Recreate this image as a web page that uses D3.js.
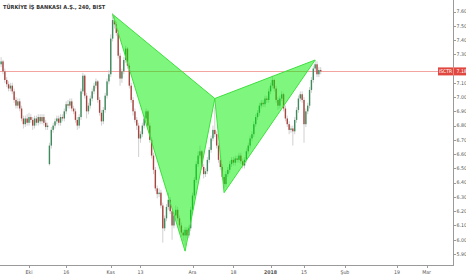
<!DOCTYPE html>
<html>
<head>
<meta charset="utf-8">
<script src="https://cdn.jsdelivr.net/npm/d3@7"></script>
<style>
  html, body { margin: 0; padding: 0; background: #fff; }
  svg text { font-family: "DejaVu Sans Condensed", "DejaVu Sans", sans-serif; }
</style>
</head>
<body>
<div id="chart"></div>
<script>
// ISCTR 240 min candles, bar index 0..173
const open = [7.20,7.23,7.25,7.18,7.12,7.09,7.06,7.08,7.04,6.98,
  6.94,6.97,6.92,6.85,6.81,6.85,6.82,6.86,6.84,6.80,
  6.85,6.82,6.86,6.83,6.86,6.82,6.79,6.53,6.66,6.77,
  6.80,6.83,6.85,6.82,6.86,6.85,6.90,6.95,6.94,6.97,
  6.92,6.90,6.84,6.80,6.86,7.04,7.15,7.01,6.90,6.94,
  6.99,7.04,7.08,7.11,6.98,6.89,6.83,6.91,7.01,7.11,
  7.16,7.41,7.54,7.51,7.45,7.29,7.13,7.18,7.26,7.34,
  7.22,7.08,6.98,6.90,6.84,6.80,6.71,6.74,6.80,6.85,
  6.90,6.80,6.70,6.59,6.49,6.36,6.32,6.33,6.24,6.08,
  6.15,6.23,6.28,6.20,6.10,6.17,6.21,6.15,6.10,6.05,
  6.03,6.07,6.03,6.08,6.21,6.31,6.42,6.53,6.59,6.62,
  6.51,6.46,6.48,6.56,6.63,6.71,6.77,6.74,6.66,6.56,
  6.51,6.44,6.39,6.46,6.49,6.53,6.56,6.54,6.57,6.56,
  6.59,6.55,6.52,6.56,6.62,6.66,6.71,6.74,6.81,6.86,
  6.89,6.94,6.96,6.95,6.99,6.98,7.04,7.08,7.12,7.06,
  6.98,6.94,6.99,7.02,6.92,6.85,6.81,6.77,6.78,6.76,
  6.84,6.91,6.99,7.02,6.98,6.81,6.90,6.94,7.05,7.12,
  7.20,7.23,7.16,7.19];
const high = [7.25,7.28,7.26,7.20,7.14,7.11,7.10,7.10,7.06,7.00,
  6.99,6.99,6.94,6.87,6.87,6.88,6.89,6.88,6.86,6.87,
  6.87,6.88,6.88,6.88,6.88,6.84,6.82,6.68,6.79,6.82,
  6.85,6.87,6.87,6.88,6.88,6.92,6.97,6.98,6.99,6.99,
  6.94,6.92,6.86,6.88,7.06,7.17,7.16,7.03,6.96,7.01,
  7.06,7.10,7.13,7.12,7.00,6.91,6.93,7.03,7.13,7.19,
  7.44,7.59,7.57,7.53,7.47,7.31,7.20,7.28,7.36,7.35,
  7.24,7.10,7.00,6.92,6.86,6.82,6.76,6.82,6.87,6.92,
  6.91,6.82,6.72,6.61,6.51,6.38,6.36,6.35,6.26,6.17,
  6.25,6.33,6.30,6.22,6.19,6.24,6.23,6.17,6.12,6.07,
  6.09,6.09,6.10,6.23,6.33,6.44,6.55,6.62,6.66,6.63,
  6.53,6.50,6.58,6.65,6.73,6.80,6.93,6.76,6.68,6.58,
  6.53,6.46,6.48,6.51,6.55,6.58,6.58,6.59,6.59,6.61,
  6.61,6.57,6.58,6.64,6.68,6.73,6.76,6.83,6.88,6.91,
  6.96,6.98,6.98,7.01,7.01,7.06,7.10,7.15,7.13,7.08,
  7.00,7.01,7.04,7.03,6.94,6.87,6.83,6.80,6.80,6.86,
  6.93,7.01,7.04,7.04,7.00,6.92,6.96,7.07,7.14,7.22,
  7.26,7.25,7.21,7.21];
const low = [7.18,7.21,7.16,7.10,7.07,7.04,7.04,7.02,6.96,6.92,
  6.92,6.90,6.83,6.78,6.79,6.80,6.80,6.82,6.77,6.78,
  6.80,6.80,6.81,6.81,6.80,6.77,6.77,6.52,6.64,6.75,
  6.78,6.81,6.80,6.80,6.83,6.83,6.88,6.92,6.92,6.90,
  6.88,6.82,6.77,6.78,6.84,7.02,6.99,6.85,6.88,6.92,
  6.97,7.02,7.06,6.96,6.87,6.80,6.81,6.89,6.99,7.09,
  7.14,7.39,7.48,7.43,7.27,7.08,7.10,7.16,7.24,7.20,
  7.06,6.96,6.87,6.82,6.77,6.58,6.68,6.72,6.78,6.83,
  6.78,6.68,6.57,6.46,6.34,6.29,6.30,6.22,5.98,6.06,
  6.13,6.21,6.18,6.00,6.08,6.15,6.13,6.08,6.02,5.99,
  5.96,6.01,6.01,6.06,6.19,6.29,6.40,6.51,6.57,6.49,
  6.43,6.44,6.46,6.54,6.61,6.69,6.72,6.64,6.54,6.49,
  6.42,6.36,6.37,6.44,6.47,6.51,6.52,6.52,6.54,6.54,
  6.53,6.50,6.50,6.54,6.60,6.64,6.69,6.72,6.79,6.84,
  6.87,6.92,6.93,6.93,6.96,6.96,7.02,7.06,7.04,6.96,
  6.91,6.92,6.97,6.90,6.83,6.79,6.74,6.75,6.66,6.74,
  6.82,6.89,6.97,6.96,6.68,6.79,6.88,6.92,7.03,7.10,
  7.18,7.14,7.14,7.16];
const close = [7.23,7.25,7.18,7.12,7.09,7.06,7.08,7.04,6.98,6.94,
  6.97,6.92,6.85,6.81,6.85,6.82,6.86,6.84,6.80,6.85,
  6.82,6.86,6.83,6.86,6.82,6.79,6.80,6.66,6.77,6.80,
  6.83,6.85,6.82,6.86,6.85,6.90,6.95,6.94,6.97,6.92,
  6.90,6.84,6.80,6.86,7.04,7.15,7.01,6.90,6.94,6.99,
  7.04,7.08,7.11,6.98,6.89,6.83,6.91,7.01,7.11,7.16,
  7.41,7.54,7.51,7.45,7.29,7.13,7.18,7.26,7.34,7.22,
  7.08,6.98,6.90,6.84,6.80,6.71,6.74,6.80,6.85,6.90,
  6.80,6.70,6.59,6.49,6.36,6.32,6.33,6.24,6.08,6.15,
  6.23,6.28,6.20,6.10,6.17,6.21,6.15,6.10,6.05,6.03,
  6.07,6.03,6.08,6.21,6.31,6.42,6.53,6.59,6.62,6.51,
  6.46,6.48,6.56,6.63,6.71,6.77,6.74,6.66,6.56,6.51,
  6.44,6.39,6.46,6.49,6.53,6.56,6.54,6.57,6.56,6.59,
  6.55,6.52,6.56,6.62,6.66,6.71,6.74,6.81,6.86,6.89,
  6.94,6.96,6.95,6.99,6.98,7.04,7.08,7.12,7.06,6.98,
  6.94,6.99,7.02,6.92,6.85,6.81,6.77,6.78,6.76,6.84,
  6.91,6.99,7.02,6.98,6.81,6.90,6.94,7.05,7.12,7.20,
  7.23,7.16,7.19,7.18];

// XABCD pattern points (bar index, price)
const patternNames = ["X", "A", "B", "C", "D"];
const patternBar = [61, 100, 116, 121, 170];
const patternPrice = [7.58, 5.92, 6.99, 6.33, 7.26];

// x axis ticks (bar index) and labels
const xTickBars = [16, 36, 60, 76, 104, 126, 146, 164, 186, 214, 230];
const xTickLabels = ["Eki", "16", "Kas", "13", "Ara", "18", "2018", "15", "Şub", "19", "Mar"];
const yTickLabels = ["5.90","6.00","6.10","6.20","6.30","6.40","6.50","6.60","6.70","6.80",
  "6.90","7.00","7.10","7.20","7.30","7.40","7.50","7.60"];

const lastPrice = 7.18;
const title = "TÜRKİYE İŞ BANKASI A.Ş., 240, BIST";

const W = 466, H = 275;
const plotRight = 453, plotBottom = 265;

const svg = d3.select("#chart").append("svg")
  .attr("width", W).attr("height", H)
  .style("display", "block");

svg.append("defs").append("clipPath").attr("id", "plot")
  .append("rect").attr("x", 0).attr("y", 0)
  .attr("width", plotRight).attr("height", plotBottom);

const x = d3.scaleLinear().domain([16, 164]).range([29, 304]);
const y = d3.scaleLinear().domain([5.9, 7.6]).range([254, 11.5]);

const plot = svg.append("g").attr("clip-path", "url(#plot)");

// last price line
plot.append("line")
  .attr("x1", 0).attr("x2", plotRight)
  .attr("y1", Math.round(y(lastPrice)) + 0.5).attr("y2", Math.round(y(lastPrice)) + 0.5)
  .attr("stroke", "#f3a3a0").attr("stroke-width", 1);

// candles
const bars = d3.range(close.length);
const candle = plot.append("g").selectAll("g").data(bars).join("g");
candle.append("line")
  .attr("x1", i => x(i)).attr("x2", i => x(i))
  .attr("y1", i => y(high[i])).attr("y2", i => y(low[i]))
  .attr("stroke", "#c4c4c4").attr("stroke-width", 0.8);
candle.append("rect")
  .attr("x", i => x(i) - 0.7)
  .attr("width", 1.4)
  .attr("y", i => y(Math.max(open[i], close[i])))
  .attr("height", i => Math.max(0.8, Math.abs(y(open[i]) - y(close[i]))))
  .attr("fill", i => close[i] >= open[i] ? "#3f8a5c" : "#a8443f");

// harmonic pattern: triangles XAB and BCD
const pt = k => [x(patternBar[k]), y(patternPrice[k])];
const tris = [[0, 1, 2], [2, 3, 4]];
plot.append("g").selectAll("path").data(tris).join("path")
  .attr("d", t => "M" + t.map(k => pt(k).join(",")).join("L") + "Z")
  .attr("fill", "rgba(0,240,0,0.5)")
  .attr("stroke", "#3ee03e")
  .attr("stroke-width", 1)
  .attr("stroke-linejoin", "round");

// axes
svg.append("line")
  .attr("x1", plotRight + 0.5).attr("x2", plotRight + 0.5)
  .attr("y1", 0).attr("y2", plotBottom)
  .attr("stroke", "#9a9a9a").attr("stroke-width", 1);
svg.append("line")
  .attr("x1", 0).attr("x2", plotRight + 1)
  .attr("y1", plotBottom + 0.5).attr("y2", plotBottom + 0.5)
  .attr("stroke", "#9a9a9a").attr("stroke-width", 1);

// price scale ticks; the one under the last-price label is hidden
const yTicks = yTickLabels.filter(s => Math.abs(+s - lastPrice) > 0.05);
const yAxis = svg.append("g");
yAxis.selectAll("line").data(yTicks).join("line")
  .attr("x1", plotRight + 1).attr("x2", plotRight + 3)
  .attr("y1", d => Math.round(y(+d)) + 0.5).attr("y2", d => Math.round(y(+d)) + 0.5)
  .attr("stroke", "#9a9a9a");
yAxis.selectAll("text").data(yTicks).join("text")
  .attr("x", plotRight + 3.5).attr("y", d => y(+d) + 1.8)
  .attr("font-size", 5.2).attr("fill", "#555")
  .text(d => d);

const xAxis = svg.append("g");
xAxis.selectAll("line").data(xTickBars).join("line")
  .attr("x1", d => Math.round(x(d)) + 0.5).attr("x2", d => Math.round(x(d)) + 0.5)
  .attr("y1", plotBottom + 1).attr("y2", plotBottom + 3)
  .attr("stroke", "#9a9a9a");
xAxis.selectAll("text").data(xTickBars).join("text")
  .attr("x", d => x(d)).attr("y", plotBottom + 8.5)
  .attr("text-anchor", "middle")
  .attr("font-size", 5.2).attr("fill", "#555")
  .attr("font-weight", (d, i) => xTickLabels[i] === "2018" ? "bold" : "normal")
  .text((d, i) => xTickLabels[i]);

// last price label
const ly = y(lastPrice);
svg.append("rect")
  .attr("x", 438).attr("y", ly - 4).attr("width", 28).attr("height", 8)
  .attr("fill", "#e0483f");
svg.append("line")
  .attr("x1", plotRight + 0.5).attr("x2", plotRight + 0.5)
  .attr("y1", ly - 4).attr("y2", ly + 4)
  .attr("stroke", "#f4b4b0").attr("stroke-width", 0.6);
svg.append("text")
  .attr("x", 445.5).attr("y", ly + 1.9).attr("text-anchor", "middle")
  .attr("font-size", 5).attr("fill", "#fff")
  .text("ISCTR");
svg.append("text")
  .attr("x", plotRight + 3.5).attr("y", ly + 1.9)
  .attr("font-size", 5.2).attr("fill", "#fff")
  .text(lastPrice.toFixed(2));

// title
svg.append("text")
  .attr("x", 3).attr("y", 9)
  .attr("font-size", 5.6).attr("fill", "#333").attr("font-weight", "bold")
  .text(title);
</script>
</body>
</html>
